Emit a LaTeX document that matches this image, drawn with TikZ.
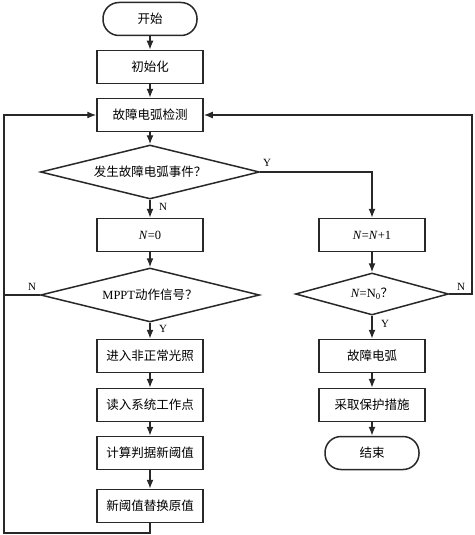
\documentclass[tikz,border=0pt]{standalone}
\usepackage{fontspec}
\setmainfont{Liberation Serif}
\newfontfamily\cjk{Noto Sans CJK SC}
\usetikzlibrary{shapes.geometric,arrows.meta}
\definecolor{linegray}{RGB}{40,40,40}
\tikzset{
  procbox/.style={draw=linegray,line width=1.5pt,minimum width=106pt,minimum height=33pt,
    inner sep=0pt,font=\cjk\fontsize{12.5}{14}\selectfont},
  termbox/.style={procbox,rounded corners=16pt,minimum width=94pt},
  decide/.style={draw=linegray,line width=1.5pt,diamond,aspect=4,inner sep=0pt,
    minimum width=219pt,minimum height=54pt,font=\cjk\fontsize{12.5}{14}\selectfont},
  flow/.style={draw=linegray,line width=1.3pt,-{Latex[length=9pt,width=7pt]}},
  link/.style={draw=linegray,line width=1.3pt},
  tag/.style={font=\rmfamily\fontsize{11}{12}\selectfont}
}
\begin{document}
\begin{tikzpicture}[x=1pt,y=-1pt]
  \useasboundingbox (0,0) rectangle (474,535);
  % left column
  \node[termbox] (start) at (150,19) {开始};
  \node[procbox] (init) at (150,67) {初始化};
  \node[procbox] (detect) at (150,115) {故障电弧检测};
  \node[decide] (event) at (150,172) {发生故障电弧事件？};
  \node[procbox] (reset) at (150,235) {\rmfamily\textit{N}=0};
  \node[decide] (mppt) at (150,295) {{\rmfamily MPPT}动作信号？};
  \node[procbox] (light) at (150,356) {进入非正常光照};
  \node[procbox] (read) at (150,405) {读入系统工作点};
  \node[procbox] (calc) at (150,453) {计算判据新阈值};
  \node[procbox] (swap) at (150,506) {新阈值替换原值};
  % right column
  \node[procbox] (count) at (372,235) {{\rmfamily\textit{N}=\textit{N}+1}};
  \node[decide,aspect=3.6,minimum width=153pt,minimum height=42pt] (limit) at (372,294)
    {{\rmfamily\textit{N}=N\textsubscript{0}}？};
  \node[procbox] (arc) at (372,356) {故障电弧};
  \node[procbox] (protect) at (372,405) {采取保护措施};
  \node[termbox] (stop) at (372,453) {结束};
  % corners of the loops
  \coordinate (lb) at (4,533);
  \coordinate (lt) at (4,115);
  \coordinate (rt) at (472,115);
  \coordinate (rb) at (472,294);
  \coordinate (yr) at (372,172);
  \coordinate (sb) at (150,533);
  \begin{scope}[flow]
    \draw (start) to (init);
    \draw (init) to (detect);
    \draw (detect) to (event);
    \draw (event) to (reset);
    \draw (reset) to (mppt);
    \draw (mppt) to (light);
    \draw (light) to (read);
    \draw (read) to (calc);
    \draw (calc) to (swap);
    \draw (event.east) -- (yr) -- (count);
    \draw (count) to (limit);
    \draw (limit) to (arc);
    \draw (arc) to (protect);
    \draw (protect) to (stop);
    \draw (swap.south) -- (sb) -- (lb) -- (lt) -- (detect.west);
    \draw (limit.east) -- (rb) -- (rt) -- (detect.east);
  \end{scope}
  \draw[link] (mppt.west) -- (4,295);
  % branch labels
  \node[tag] (ev-y) at (267,163) {Y};
  \node[tag] (ev-n) at (163,207) {N};
  \node[tag] (mp-n) at (32,287) {N};
  \node[tag] (mp-y) at (163,329) {Y};
  \node[tag] (li-n) at (461,287) {N};
  \node[tag] (li-y) at (385,324) {Y};
\end{tikzpicture}
\end{document}
